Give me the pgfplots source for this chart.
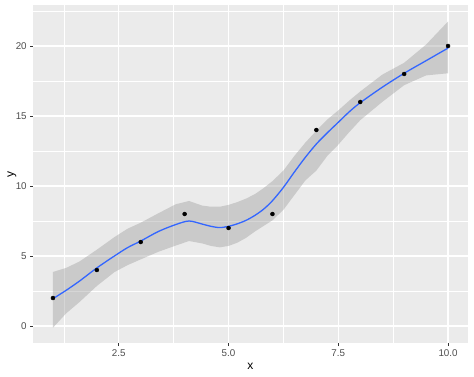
\documentclass[border=0pt]{standalone}
\usepackage{pgfplots}
\pgfplotsset{compat=1.18}
\usepackage{pgfplotstable}
\usepackage{fontspec}
\setmainfont{Liberation Sans}
\usepgfplotslibrary{fillbetween}
\definecolor{panelbg}{HTML}{EBEBEB}
\definecolor{ribboncol}{HTML}{999999}
\definecolor{smoothblue}{HTML}{3366FF}
\definecolor{ticklab}{HTML}{4D4D4D}
\definecolor{tickcol}{HTML}{333333}

\pgfplotstableread{
x fit lo hi
1.0 1.95 -0.12 3.86
1.3 2.55 0.90 4.15
1.6 3.20 1.70 4.60
2.0 4.15 2.86 5.45
2.4 5.00 3.85 6.35
2.7 5.60 4.35 6.95
3.0 6.07 4.76 7.38
3.4 6.75 5.30 8.05
3.8 7.25 5.75 8.70
4.1 7.50 6.07 8.93
4.4 7.28 5.90 8.60
4.6 7.12 5.72 8.52
4.8 7.03 5.62 8.52
5.0 7.12 5.72 8.65
5.2 7.30 5.95 8.85
5.4 7.55 6.30 9.10
5.6 7.90 6.75 9.42
5.8 8.35 7.15 9.85
6.0 8.95 7.55 10.35
6.25 9.90 8.30 11.10
6.5 11.00 9.35 12.15
6.75 12.05 10.40 13.10
7.0 13.00 11.10 13.95
7.25 13.80 12.15 14.75
7.5 14.55 12.95 15.40
7.75 15.30 13.85 16.10
8.0 15.95 14.70 16.75
8.5 17.05 16.00 17.95
9.0 18.05 17.20 18.80
9.5 18.95 17.90 20.10
10.0 19.85 18.05 21.75
}\smoothtab

\pgfplotstableread{
x y
1 2
2 4
3 6
4 8
5 7
6 8
7 14
8 16
9 18
10 20
}\pointtab

\begin{document}
\begin{tikzpicture}
\begin{axis}[
  at={(33.2pt,32.9pt)}, anchor=south west,
  scale only axis, width=434.6pt, height=338pt,
  xmin=0.55, xmax=10.45, ymin=-1.22, ymax=22.92,
  axis background/.style={fill=panelbg},
  axis line style={draw=none},
  xtick={2.5,5,7.5,10}, xticklabels={2.5,5.0,7.5,10.0},
  ytick={0,5,10,15,20}, yticklabels={0,5,10,15,20},
  minor xtick={1.25,3.75,6.25,8.75},
  minor ytick={2.5,7.5,12.5,17.5,22.5},
  grid=both,
  major grid style={white, line width=1.1pt},
  minor grid style={white, line width=0.55pt},
  tick align=outside, tick pos=left,
  major tick length=3pt, minor tick length=0pt,
  every tick/.style={tickcol, line width=0.8pt},
  ticklabel style={font=\fontsize{9.8}{11}\selectfont, text=ticklab},
  /pgf/number format/assume math mode=true,
  xlabel={x}, ylabel={y},
  label style={font=\fontsize{12}{14}\selectfont, inner sep=0pt},
  xlabel style={at={(axis description cs:0.5,-0.068)}, anchor=center},
  ylabel style={at={(axis description cs:-0.049,0.5)}, anchor=center, rotate=0},
]
\addplot[name path=hi, draw=none] table[x=x, y=hi] {\smoothtab};
\addplot[name path=lo, draw=none] table[x=x, y=lo] {\smoothtab};
\addplot[ribboncol, fill opacity=0.4, draw=none] fill between[of=hi and lo];
\addplot[smoothblue, line width=1.3pt, smooth] table[x=x, y=fit] {\smoothtab};
\addplot[only marks, mark=*, mark size=2pt, black] table[x=x, y=y] {\pointtab};
\end{axis}
\path (0,0) rectangle (474pt,376pt);
\end{tikzpicture}
\end{document}
